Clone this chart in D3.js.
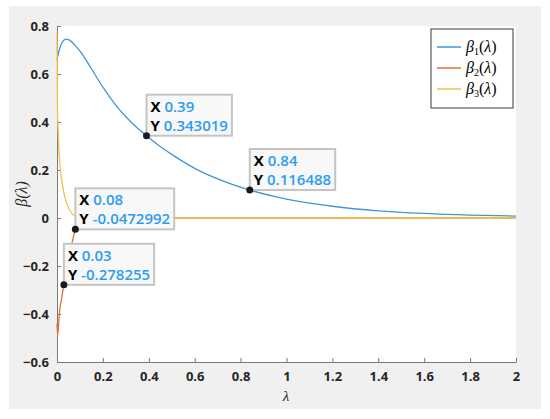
<!DOCTYPE html>
<html lang="en">
<head>
<meta charset="UTF-8">
<title>beta(lambda)</title>
<style>
  body { margin: 0; background: #fff; }
  .tick text { font: bold 13px "Open Sans", sans-serif; fill: #262626; }
  .tip text { font: 600 15px "Open Sans", sans-serif; }
</style>
</head>
<body>
<svg id="chart"></svg>
<script src="https://cdnjs.cloudflare.com/ajax/libs/d3/7.8.5/d3.min.js"></script>
<script>
// values
var lam1 = [0, 0.01, 0.02, 0.03, 0.04, 0.05, 0.06, 0.08, 0.10, 0.12, 0.15, 0.20, 0.25, 0.30, 0.35, 0.39, 0.45, 0.50, 0.60, 0.70, 0.84, 1.0, 1.2, 1.4, 1.6, 1.8, 2.0];
var beta1 = [0.66, 0.70, 0.728, 0.741, 0.745, 0.743, 0.737, 0.718, 0.695, 0.668, 0.622, 0.545, 0.478, 0.422, 0.375, 0.343, 0.298, 0.265, 0.207, 0.163, 0.1165, 0.079, 0.049, 0.030, 0.019, 0.012, 0.008];

var lam2 = [0, 0.003, 0.01, 0.02, 0.03, 0.04, 0.05, 0.06, 0.07, 0.08, 0.09, 0.10, 0.12, 0.15, 0.20, 2.0];
var beta2 = [-0.44, -0.49, -0.40, -0.335, -0.278, -0.225, -0.175, -0.128, -0.085, -0.047, -0.028, -0.016, -0.006, -0.002, 0, 0];

var lam3 = [0, 0.002, 0.005, 0.01, 0.015, 0.02, 0.03, 0.04, 0.05, 0.06, 0.07, 0.08, 0.10, 0.15, 0.30, 2.0];
var beta3 = [0.77, 0.46, 0.36, 0.26, 0.2, 0.16, 0.105, 0.068, 0.042, 0.025, 0.013, 0.006, 0.0015, 0, 0, 0];

var seriesNames = ["1", "2", "3"];
var seriesColors = ["#3f97d6", "#e2703c", "#f2c14e"];

var tipX = [0.39, 0.84, 0.08, 0.03];
var tipY = [0.343019, 0.116488, -0.0472992, -0.278255];
var tipXText = ["0.39", "0.84", "0.08", "0.03"];
var tipYText = ["0.343019", "0.116488", "-0.0472992", "-0.278255"];

var xTicks = [0, 0.2, 0.4, 0.6, 0.8, 1, 1.2, 1.4, 1.6, 1.8, 2];
var yTicks = [-0.6, -0.4, -0.2, 0, 0.2, 0.4, 0.6, 0.8];

var W = 550, H = 419;
var svg = d3.select("#chart").attr("width", W).attr("height", H);

// figure background
svg.append("rect").attr("x", 9).attr("y", 6).attr("width", 532).attr("height", 403).attr("fill", "#f0f0f0");

var x = d3.scaleLinear().domain([0, 2]).range([57, 516]);
var y = d3.scaleLinear().domain([-0.6, 0.8]).range([362, 26]);

svg.append("rect")
  .attr("x", x(0)).attr("y", y(0.8))
  .attr("width", x(2) - x(0)).attr("height", y(-0.6) - y(0.8))
  .attr("fill", "#fff");

var fmt = function(d) {
  var s = d3.format("")(+d.toFixed(1));
  return s.replace("-", "\u2212");
};

svg.append("g")
  .attr("transform", "translate(0," + y(-0.6) + ")")
  .call(d3.axisBottom(x).tickValues(xTicks).tickFormat(fmt).tickSizeInner(-4).tickSizeOuter(-4).tickPadding(10));
svg.append("g")
  .attr("transform", "translate(" + x(0) + ",0)")
  .call(d3.axisLeft(y).tickValues(yTicks).tickFormat(fmt).tickSizeInner(-4).tickSizeOuter(-4).tickPadding(8));
svg.selectAll(".domain").attr("stroke", "#7a7a7a");
svg.selectAll(".tick line").attr("stroke", "#7a7a7a");

// axis labels
svg.append("text")
  .attr("x", 286).attr("y", 401)
  .attr("text-anchor", "middle")
  .style("font", "italic 15px 'Liberation Serif', serif").attr("fill", "#262626")
  .text("\u03bb");

svg.append("text")
  .attr("transform", "translate(27," + ((y(0.8) + y(-0.6)) / 2) + ") rotate(-90)")
  .attr("text-anchor", "middle")
  .style("font", "italic 16px 'Liberation Serif', serif").attr("fill", "#262626")
  .text("\u03b2(\u03bb)");

// curves
var line = d3.line()
  .x(function(d) { return x(d[0]); })
  .y(function(d) { return y(d[1]); })
  .curve(d3.curveMonotoneX);

var curves = [d3.zip(lam1, beta1), d3.zip(lam2, beta2), d3.zip(lam3, beta3)];
curves.forEach(function(c, i) {
  svg.append("path")
    .datum(c)
    .attr("d", line)
    .attr("fill", "none")
    .attr("stroke", seriesColors[i])
    .attr("stroke-width", 1.3);
});

// data tips
tipX.forEach(function(tx, i) {
  var px = x(tx), py = y(tipY[i]);
  var g = svg.append("g").attr("class", "tip");
  var t1 = g.append("text").attr("x", px + 4).attr("y", py - 24);
  t1.append("tspan").attr("fill", "#000").attr("font-weight", 700).text("X ");
  t1.append("tspan").attr("fill", "#2a9df4").text(tipXText[i]);
  var t2 = g.append("text").attr("x", px + 4).attr("y", py - 5);
  t2.append("tspan").attr("fill", "#000").attr("font-weight", 700).text("Y ");
  t2.append("tspan").attr("fill", "#2a9df4").text(tipYText[i]);
  var w = Math.max(t1.node().getComputedTextLength(), t2.node().getComputedTextLength()) + 8;
  g.insert("rect", "text")
    .attr("x", px).attr("y", py - 41)
    .attr("width", w).attr("height", 41)
    .attr("fill", "#f8f8f8").attr("fill-opacity", 0.95)
    .attr("stroke", "#c4c4c4").attr("stroke-width", 2);
  svg.append("circle").attr("cx", px).attr("cy", py).attr("r", 3.5).attr("fill", "#1a1a1a");
});

// legend
var lg = svg.append("g");
lg.append("rect").attr("x", 431).attr("y", 29).attr("width", 82).attr("height", 79)
  .attr("fill", "#fff").attr("stroke", "#3a3a3a").attr("stroke-width", 1);
var rowY = [47, 68, 89];
seriesNames.forEach(function(n, i) {
  lg.append("line").attr("x1", 437).attr("x2", 461).attr("y1", rowY[i]).attr("y2", rowY[i])
    .attr("stroke", seriesColors[i]).attr("stroke-width", 1.5);
  var t = lg.append("text").attr("x", 466).attr("y", rowY[i] + 5)
    .style("font", "italic 16px 'Liberation Serif', serif").attr("fill", "#000");
  t.append("tspan").text("\u03b2");
  t.append("tspan").attr("font-size", "10px").attr("font-style", "normal").attr("dy", 3).text(n);
  t.append("tspan").attr("dy", -3).attr("font-style", "normal").text("(");
  t.append("tspan").text("\u03bb");
  t.append("tspan").attr("font-style", "normal").text(")");
});
</script>
</body>
</html>
